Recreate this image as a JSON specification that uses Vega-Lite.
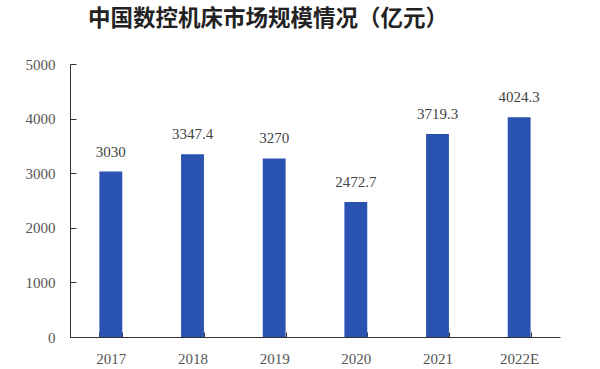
{
  "$schema": "https://vega.github.io/schema/vega-lite/v6.json",
  "autosize": {"type": "none"},
  "padding": {"left": 70, "top": 64, "right": 40, "bottom": 32},
  "width": 490,
  "height": 273,
  "background": "white",
  "title": {
    "text": "中国数控机床市场规模情况（亿元）",
    "font": "Noto Sans CJK SC",
    "fontSize": 22.5,
    "fontWeight": "bold",
    "color": "#222222",
    "anchor": "middle",
    "dx": -47,
    "offset": 27
  },
  "data": {
    "values": [
      {"year": "2017", "value": 3030, "label": "3030"},
      {"year": "2018", "value": 3347.4, "label": "3347.4"},
      {"year": "2019", "value": 3270, "label": "3270"},
      {"year": "2020", "value": 2472.7, "label": "2472.7"},
      {"year": "2021", "value": 3719.3, "label": "3719.3"},
      {"year": "2022E", "value": 4024.3, "label": "4024.3"}
    ]
  },
  "config": {
    "view": {"stroke": null},
    "axis": {
      "labelFont": "Liberation Serif",
      "labelFontSize": 15,
      "labelColor": "#555555",
      "domainColor": "#333333",
      "tickColor": "#333333",
      "grid": false,
      "title": null
    }
  },
  "encoding": {
    "x": {
      "field": "year",
      "type": "nominal",
      "sort": null,
      "scale": {"paddingInner": 0.72, "paddingOuter": 0.36},
      "axis": {"labelAngle": 0, "tickBand": "extent", "tickSize": -5, "labelPadding": 19}
    },
    "y": {
      "field": "value",
      "type": "quantitative",
      "scale": {"domain": [0, 5000]},
      "axis": {"values": [0, 1000, 2000, 3000, 4000, 5000], "format": "d", "tickSize": -6, "labelPadding": 21}
    }
  },
  "layer": [
    {"mark": {"type": "bar", "color": "#2A52B0"}},
    {
      "mark": {"type": "text", "font": "Liberation Serif", "fontSize": 15, "color": "#444444", "dy": -12, "baseline": "bottom"},
      "encoding": {"text": {"field": "label"}}
    }
  ]
}
